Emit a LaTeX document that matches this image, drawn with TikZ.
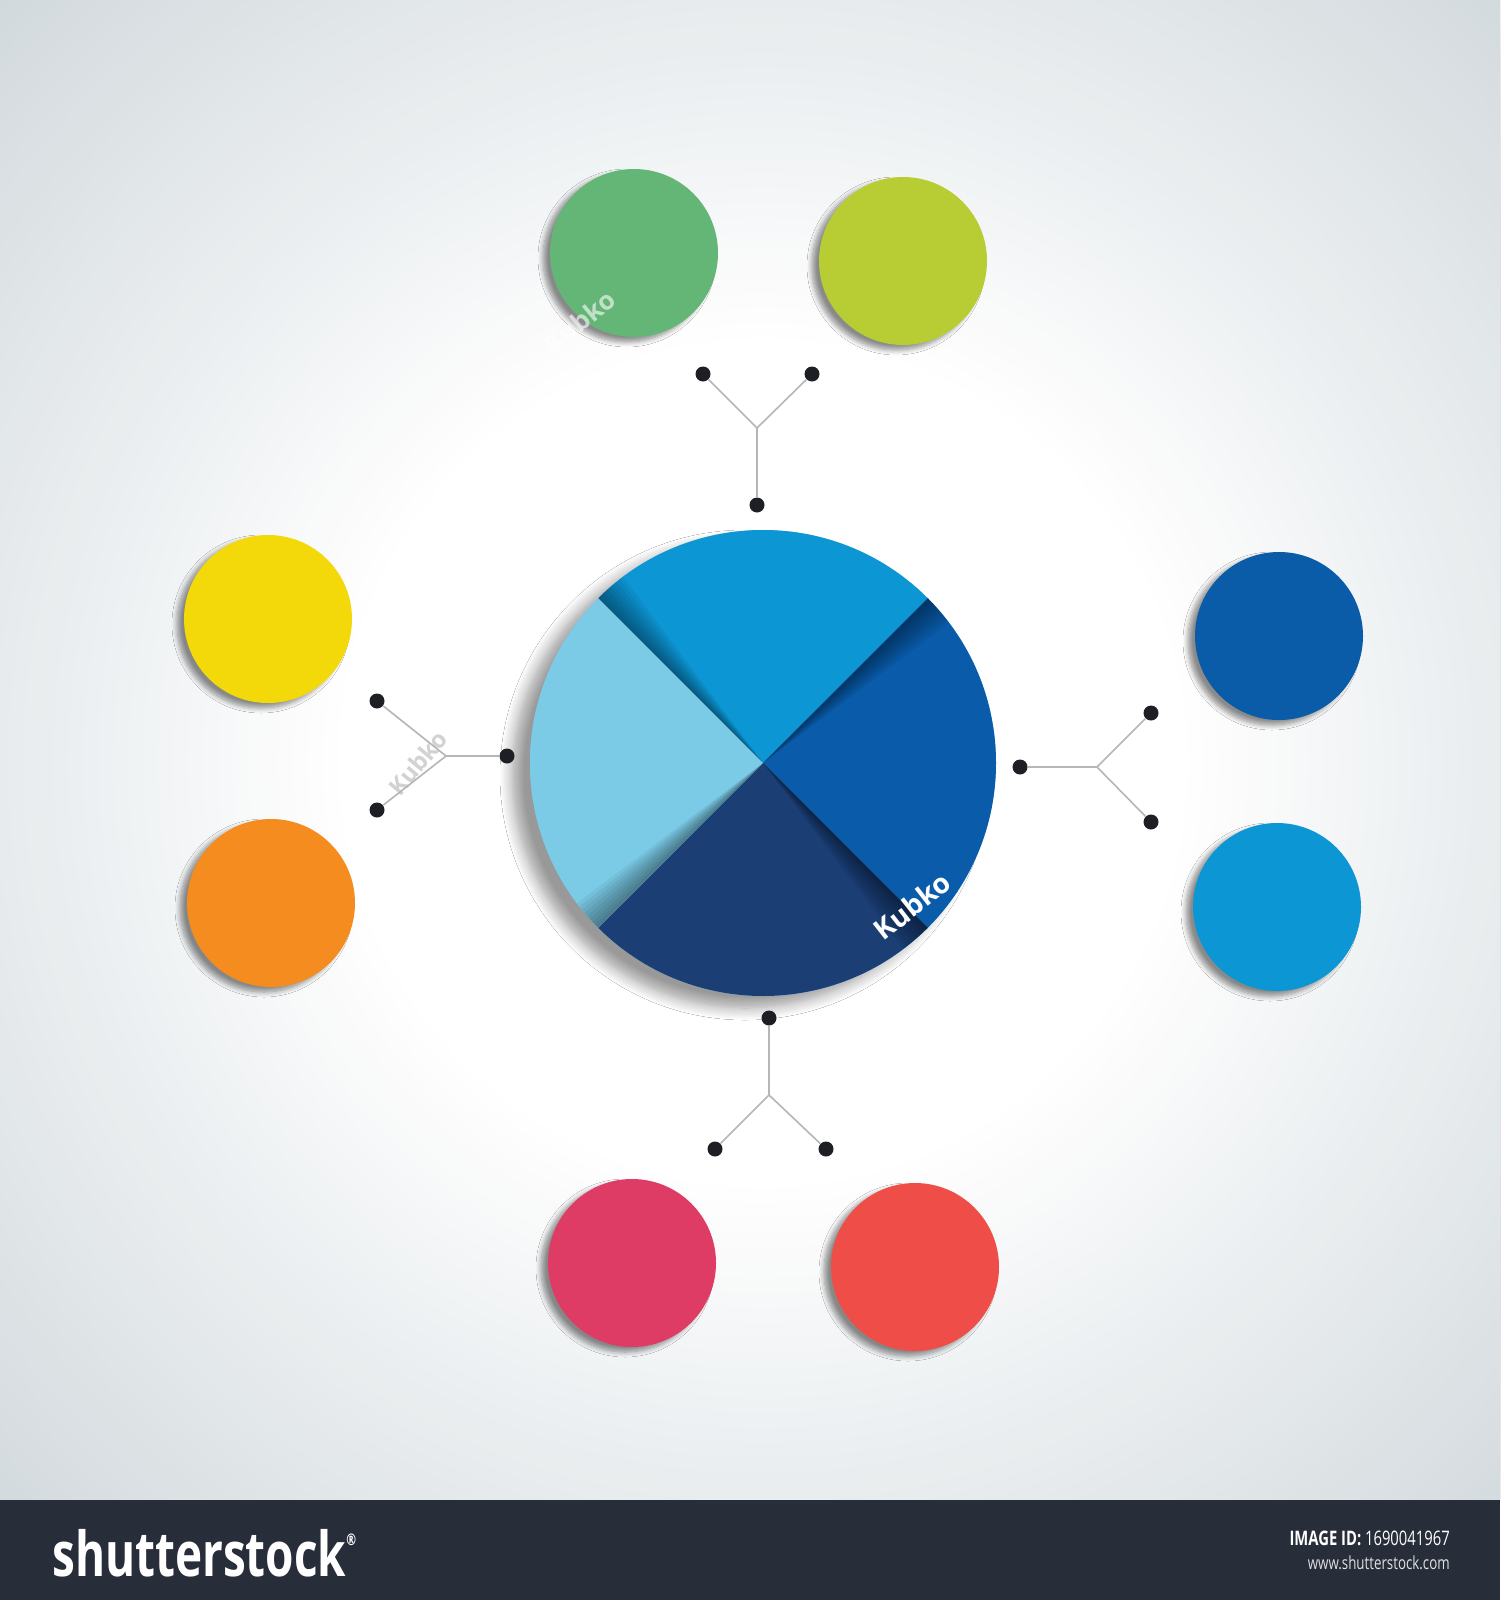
\documentclass[tikz,border=0pt]{standalone}
\usepackage{fontspec}
\setmainfont{Open Sans}
\usetikzlibrary{shadows.blur}
\definecolor{bgC}{HTML}{D1D8DC}
\definecolor{barc}{HTML}{282E39}
\definecolor{qtop}{HTML}{0D96D4}
\definecolor{qright}{HTML}{0A5BAA}
\definecolor{qbottom}{HTML}{1B3E75}
\definecolor{qleft}{HTML}{7BCBE7}
\definecolor{cgreen}{HTML}{63B676}
\definecolor{clime}{HTML}{B8CC33}
\definecolor{cyellow}{HTML}{F3D90A}
\definecolor{corange}{HTML}{F58C20}
\definecolor{cdblue}{HTML}{0A5BA8}
\definecolor{cblue}{HTML}{0D96D4}
\definecolor{cpink}{HTML}{DE3B65}
\definecolor{cred}{HTML}{EF4E48}
\definecolor{dotc}{HTML}{1E1F24}
\definecolor{linec}{HTML}{B4B6B8}
\tikzset{
  bubble/.style={circle, minimum size=84pt, inner sep=0pt,
    blur shadow={shadow xshift=-3.5pt, shadow yshift=-2.5pt, shadow blur radius=2.5pt, shadow blur steps=8, shadow opacity=45}},
  blackdot/.style={circle, fill=dotc, minimum size=7.5pt, inner sep=0pt},
  conn/.style={draw=linec, line width=0.8pt},
  piebase/.style={circle, minimum size=233pt, inner sep=0pt, fill=qleft,
    blur shadow={shadow xshift=-9pt, shadow yshift=-6pt, shadow blur radius=6pt, shadow blur steps=10, shadow opacity=40}},
  credit/.style={text=white, font=\bfseries\fontsize{14}{14}\selectfont}
}
\begin{document}
\begin{tikzpicture}[x=0.5pt,y=-0.5pt]
\useasboundingbox (0,0) rectangle (1500,1600);
% background: soft radial fade from white centre to grey edges
\fill[bgC] (0,0) rectangle (1500,1500);
\begin{scope}
  \clip (0,0) rectangle (1500,1500);
  \foreach \r in {1100,1085,...,420}{
    \pgfmathsetmacro{\p}{max(0,min(100,(\r-420)/6.8))}
    \fill[bgC!\p!white] (763,763) circle (\r);
  }
\end{scope}
% bottom bar
\fill[barc] (0,1500) rectangle (1500,1600);
\node[anchor=west, text=white, inner sep=0pt, font=\bfseries\fontsize{31}{31}\selectfont, xscale=0.74] (logo) at (52,1553) {shutterstock\raisebox{0.9ex}{\fontsize{8}{8}\selectfont\textregistered}};
\node[anchor=east, text=white, inner sep=0pt, font=\fontsize{10}{12}\selectfont, xscale=0.74] (imgid) at (1450,1538) {\textbf{IMAGE ID:} 1690041967};
\node[anchor=east, text=white!85!barc, inner sep=0pt, font=\fontsize{9}{11}\selectfont, xscale=0.74] (www) at (1450,1563) {www.shutterstock.com};

% central pie
\coordinate (c) at (763,763);
\node[piebase] (pie) at (c) {};
\fill[qtop] (c) -- ++(225:233) arc[start angle=225, end angle=315, radius=233] -- cycle;
\fill[qright] (c) -- ++(-45:233) arc[start angle=-45, end angle=45, radius=233] -- cycle;
\fill[qbottom] (c) -- ++(45:233) arc[start angle=45, end angle=135, radius=233] -- cycle;
\fill[qleft] (c) -- ++(135:233) arc[start angle=135, end angle=225, radius=233] -- cycle;
% soft shadows along the cut edges
\foreach \e in {315,225,45,135}{
  \foreach \d in {1,2,3,4,5,6,7,8}{
    \fill[black, opacity=0.055] (c) -- ++(\e:233) arc[start angle=\e, end angle=\e+\d, radius=233] -- cycle;
  }
}
\node[credit, rotate=38] (kub1) at (912,906) {Kubko};

% outer circles
\node[bubble, fill=cgreen] (green) at (634,253) {};
\node[bubble, fill=clime] (lime) at (903,261) {};
\node[bubble, fill=cyellow] (yellow) at (268,619) {};
\node[bubble, fill=corange] (orange) at (271,903) {};
\node[bubble, fill=cdblue] (dblue) at (1279,636) {};
\node[bubble, fill=cblue] (blue) at (1277,907) {};
\node[bubble, fill=cpink] (pink) at (632,1263) {};
\node[bubble, fill=cred] (red) at (915,1267) {};
\node[credit, rotate=40, opacity=0.6, font=\bfseries\fontsize{13}{13}\selectfont] (kub2) at (580,322) {Kubko};
\node[rotate=50, text=black!35, opacity=0.5, font=\bfseries\fontsize{12}{12}\selectfont] (kub3) at (418,763) {Kubko};

% connectors: top
\node[blackdot] (t0) at (757,505) {};
\coordinate (tj) at (757,428);
\node[blackdot] (t1) at (703,374) {};
\node[blackdot] (t2) at (812,374) {};
\draw[conn] (t0) -- (tj) -- (t1);
\draw[conn] (tj) -- (t2);
% left
\node[blackdot] (l0) at (507,756) {};
\coordinate (lj) at (446,756);
\node[blackdot] (l1) at (377,701) {};
\node[blackdot] (l2) at (377,810) {};
\draw[conn] (l0) -- (lj) -- (l1);
\draw[conn] (lj) -- (l2);
% right
\node[blackdot] (r0) at (1020,767) {};
\coordinate (rj) at (1097,767);
\node[blackdot] (r1) at (1151,713) {};
\node[blackdot] (r2) at (1151,822) {};
\draw[conn] (r0) -- (rj) -- (r1);
\draw[conn] (rj) -- (r2);
% bottom
\node[blackdot] (b0) at (769,1018) {};
\coordinate (bj) at (769,1095);
\node[blackdot] (b1) at (715,1149) {};
\node[blackdot] (b2) at (826,1149) {};
\draw[conn] (b0) -- (bj) -- (b1);
\draw[conn] (bj) -- (b2);
\end{tikzpicture}
\end{document}
